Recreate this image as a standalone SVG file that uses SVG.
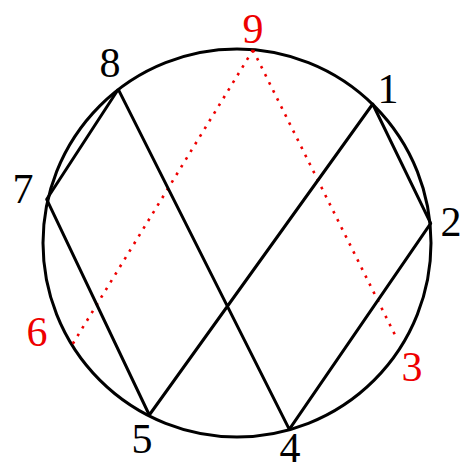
<svg xmlns="http://www.w3.org/2000/svg" width="474" height="475" viewBox="0 0 474 475">
<style>
.edge{stroke:#000;stroke-width:3;fill:none;stroke-linejoin:round}
.dot{stroke:#e00;stroke-width:2.6;fill:none;stroke-dasharray:2.6 6.4}
.lb{font-family:"Liberation Serif","Times New Roman",serif;font-size:42px;text-anchor:middle}
.blk{fill:#000}
.red{fill:#e00}
</style>
<rect width="474" height="475" fill="#fff"/>
<circle cx="237" cy="243" r="194" stroke="#000" stroke-width="3" fill="none"/>
<g id="connectors">
<line class="dot" x1="253" y1="50" x2="72" y2="345"/>
<line class="dot" x1="253" y1="50" x2="397" y2="339"/>
<polyline class="edge" points="118.3,89.3 46.7,199.3 149.3,415 372.7,104 430.7,223.3 289.3,429.3 118.3,89.3"/>
</g>
<g id="n1"><text class="lb blk" x="388" y="103">1</text></g>
<g id="n2"><text class="lb blk" x="451" y="236">2</text></g>
<g id="n3"><text class="lb red" x="412" y="381">3</text></g>
<g id="n4"><text class="lb blk" x="290" y="462">4</text></g>
<g id="n5"><text class="lb blk" x="142" y="453">5</text></g>
<g id="n6"><text class="lb red" x="37" y="346">6</text></g>
<g id="n7"><text class="lb blk" x="23" y="203">7</text></g>
<g id="n8"><text class="lb blk" x="110" y="77">8</text></g>
<g id="n9"><text class="lb red" x="253" y="43">9</text></g>
</svg>
